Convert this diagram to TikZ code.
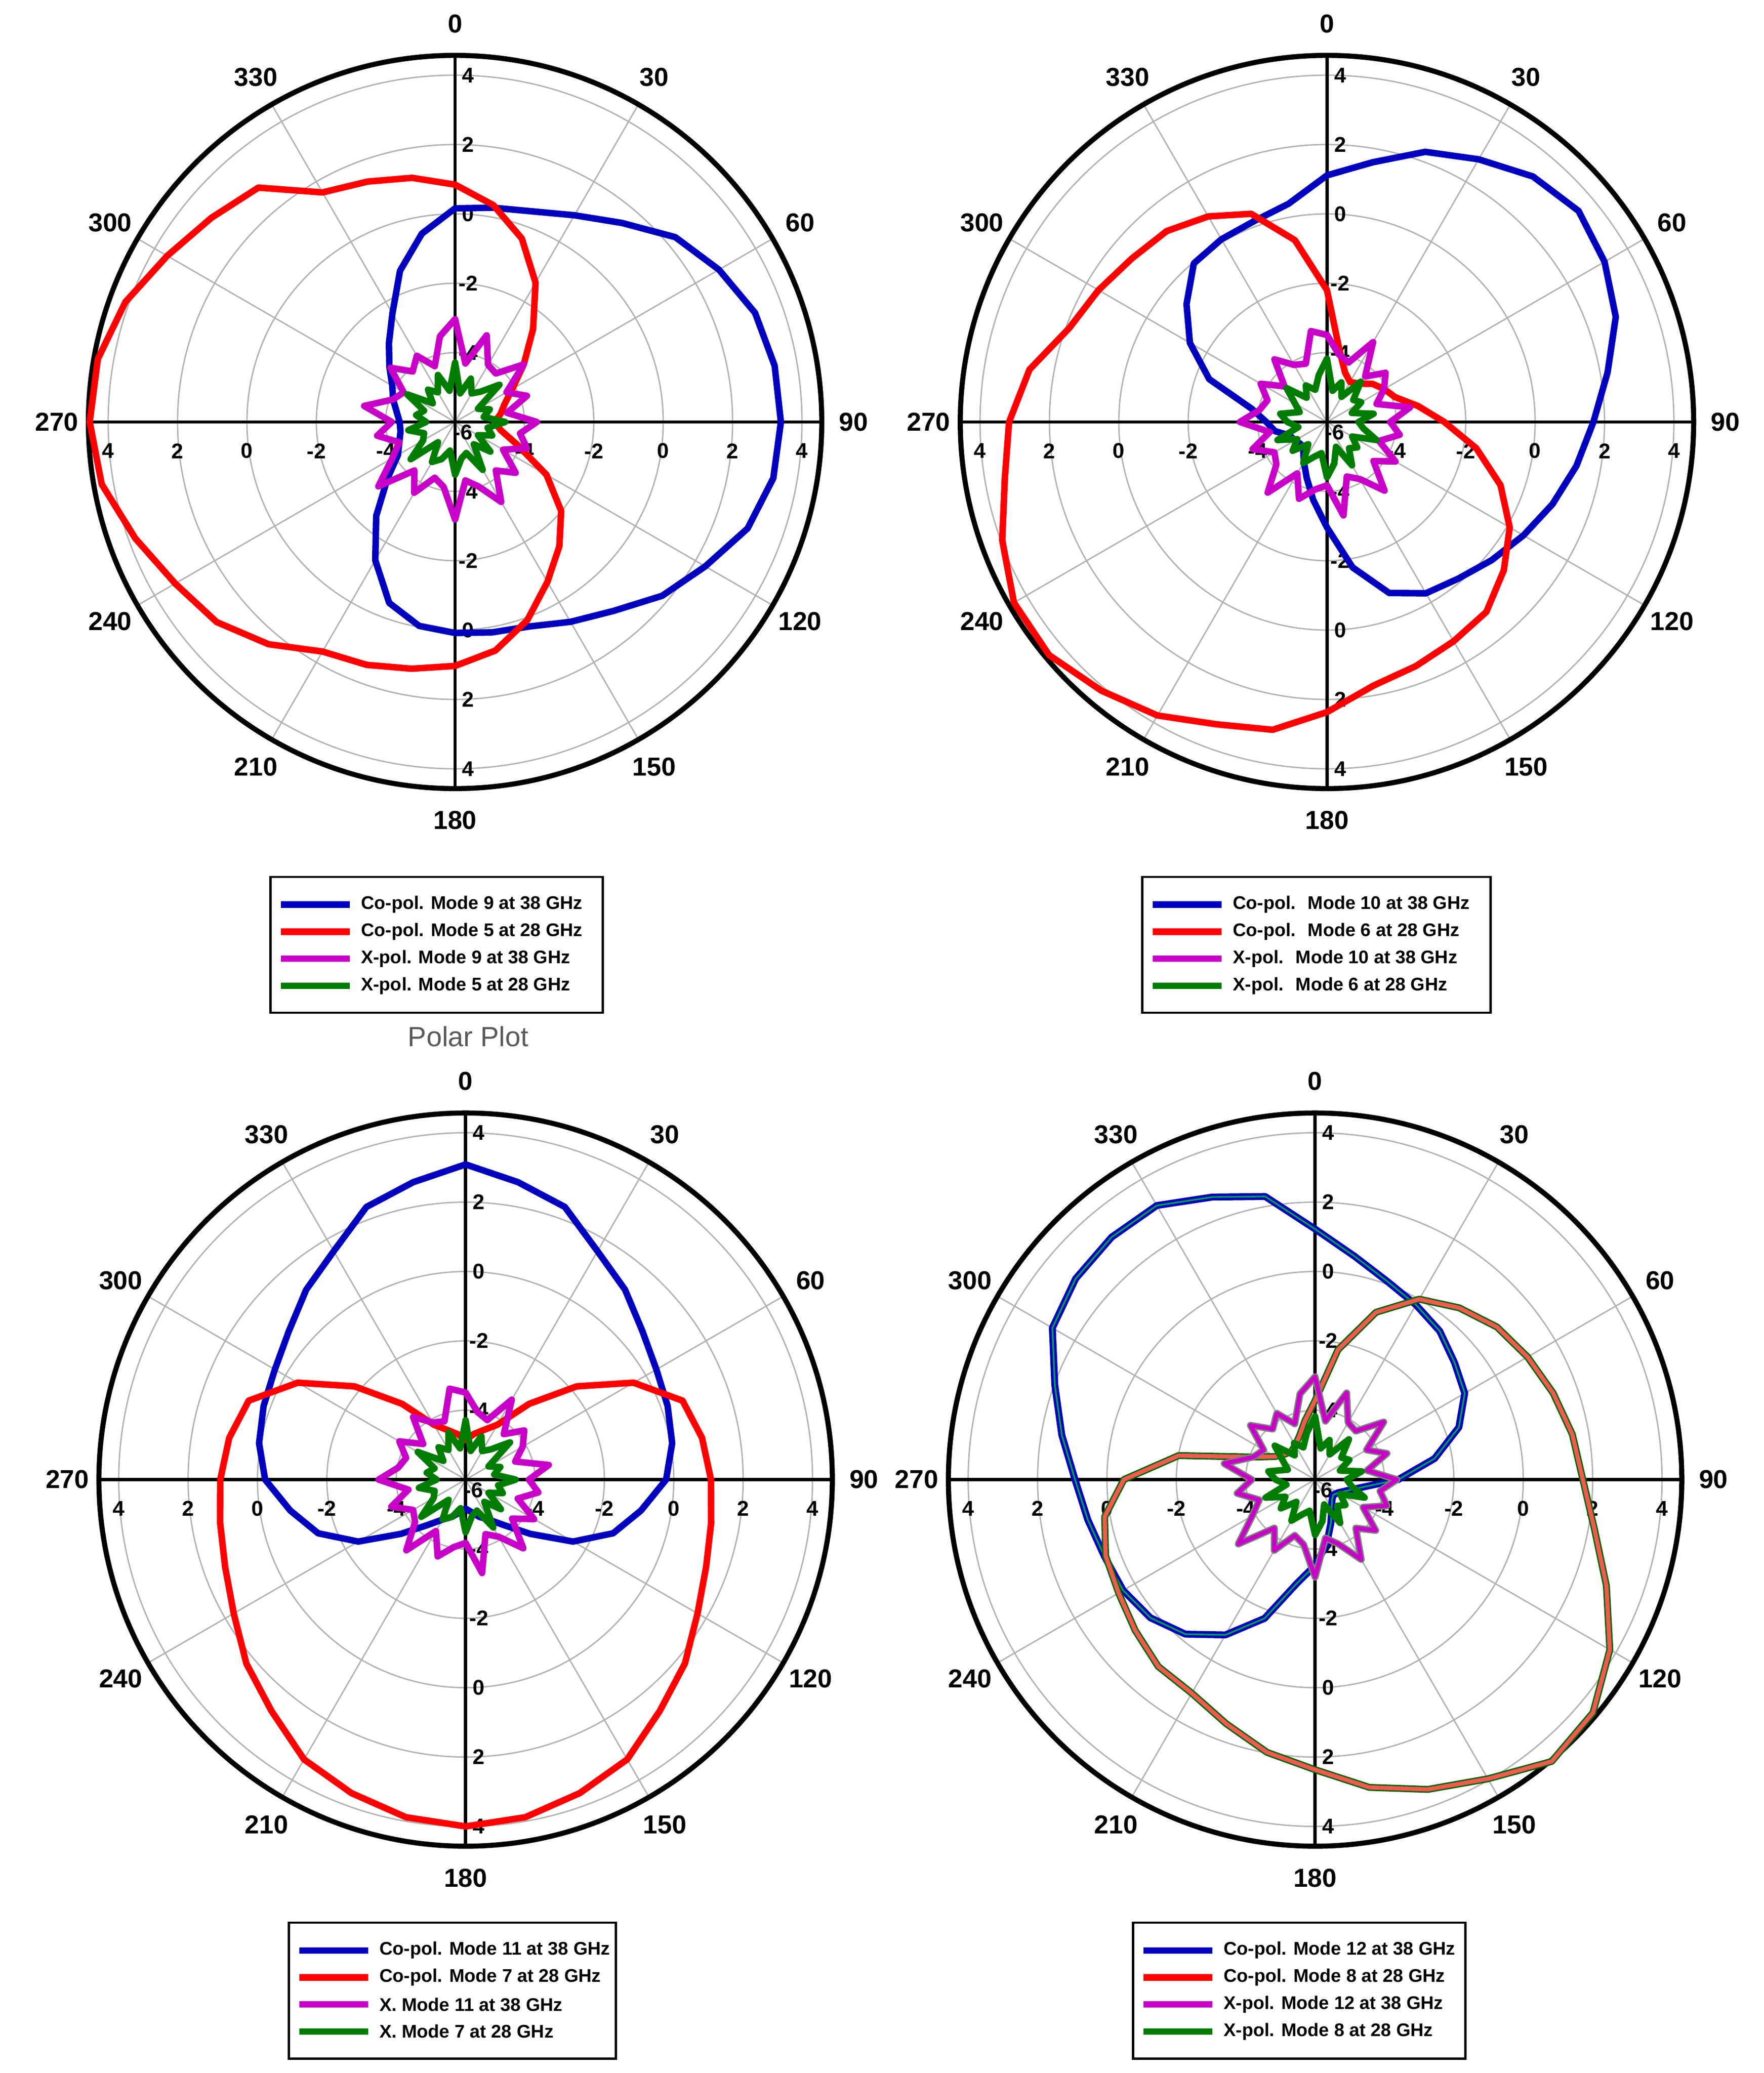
\documentclass[tikz,border=0pt]{standalone}
\usepackage{fontspec}
\setmainfont{Liberation Sans}
\definecolor{cblue}{RGB}{0,0,190}
\definecolor{cred}{RGB}{255,0,0}
\definecolor{cmag}{RGB}{200,0,200}
\definecolor{cgreen}{RGB}{0,125,0}
\definecolor{csalmon}{RGB}{240,90,80}
\tikzset{curve/.style={line width=1.4pt,line join=round},
 anglab/.style={font=\bfseries\fontsize{5.6}{6}\selectfont},
 ticklab/.style={font=\bfseries\fontsize{4.6}{5}\selectfont,inner sep=0.5pt},
 legtxt/.style={font=\bfseries\fontsize{3.95}{5}\selectfont,anchor=west,inner sep=0pt},
 legbox/.style={draw,line width=0.5pt}}
\newcommand\mypanel[1]{%
 \foreach \rr in {52.6,105.2,157.8,210.4,263} {\draw[gray!60,line width=0.3pt] (0,0) circle (\rr);}
 \foreach \a in {30,60,120,150,210,240,300,330} {\draw[gray!60,line width=0.3pt] (0,0) -- (\a:278);}
 \draw[line width=0.7pt] (0,-278) -- (0,278) (-278,0) -- (278,0);
 \draw[line width=1.1pt] (0,0) circle (278);
 \foreach \t in {0,30,...,330} {\node[anglab] (al#1\t) at ({90-\t}:302) {\t};}
 \foreach \v/\rr in {4/263,2/210.4,0/157.8,-2/105.2,-4/52.6} {
   \node[ticklab] (tu#1\v) at (10,\rr) {\v};
   \node[ticklab] (td#1\v) at (10,-\rr) {\v};
   \node[ticklab] (tl#1\v) at (-\rr,-22) {\v};
   \node[ticklab] (tr#1\v) at (\rr,-22) {\v};}
 \node[ticklab] (tc#1) at (6,-8) {-6};
}
\newcommand\mycurve[2]{%
 \edef\mytmplist{#2}%
 \foreach \r [count=\i from 0] in \mytmplist {\coordinate (q\i) at ({90-10*\i}:\r);}
 \draw[#1] (q0) \foreach \i in {1,...,35} {-- (q\i)} -- cycle;
}
\newcommand\magA{78,45,70,50,48,68,45,58,40,62,50,58,42,60,48,70,52,45,74,50,45,62,48,76,55,45,60,48,70,50,45,64,50,58,45,66}
\newcommand\grnA{45,22,35,25,30,44,20,28,22,38,25,30,20,35,22,42,25,28,40,22,30,35,20,44,28,25,36,22,30,25,42,22,32,26,38,24}
\newcommand\magB{66,52,48,70,45,58,50,40,64,48,56,42,60,46,68,50,44,72,48,52,62,45,70,50,46,60,44,66,52,48,58,42,62,50,47,70}
\newcommand\grnB{48,24,32,22,40,26,30,20,36,24,28,40,22,30,26,38,20,32,42,24,28,36,22,34,26,40,22,30,36,22,28,40,24,32,26,36}
\begin{document}
\begin{tikzpicture}[x=0.1mm,y=0.1mm]
\useasboundingbox (0,0) rectangle (1337,-1572);
% panel 1
\begin{scope}[shift={(345,-320)}]
\mypanel{a}
\mycurve{curve,cblue}{162,165,170,181,197,218,231,242,246,247,245,236,219,205,187,175,165,162,160,157,146,121,93,67,50,45,42,42,45,50,55,65,78,95,122,145}
\mycurve{curve,cred}{180,167,148,122,92,68,50,40,35,30,35,50,80,105,123,140,160,176,185,190,196,201,220,236,245,258,272,277,275,266,252,241,232,201,194,188}
\mycurve{curve,cmag}{\magA}
\mycurve{curve,cgreen}{\grnA}
\end{scope}
% panel 2
\begin{scope}[shift={(1006,-320)}]
\mypanel{b}
\mycurve{curve,cblue}{187,200,218,230,243,249,243,233,216,202,192,182,172,163,155,150,138,112,80,60,45,35,28,26,28,30,40,46,58,95,120,139,157,160,162,168}
\mycurve{curve,cred}{100,55,40,35,38,45,50,55,70,89,115,140,160,175,188,192,197,203,220,237,244,257,266,275,274,262,248,241,229,208,200,193,189,180,168,140}
\mycurve{curve,cmag}{\magB}
\mycurve{curve,cgreen}{\grnB}
\end{scope}
% panel 3
\begin{scope}[shift={(353,-1122)}]
\mypanel{c}
\mycurve{curve,cblue}{239,229,220,200,188,175,167,163,159,152,135,119,94,64,45,35,30,25,22,25,30,35,45,64,94,119,135,152,159,163,167,175,188,200,220,229}
\mycurve{curve,cred}{30,35,40,48,75,110,147,175,182,186,189,194,203,217,229,245,253,260,263,260,253,245,229,217,203,194,189,186,182,175,147,110,75,48,40,35}
\mycurve{curve,cmag}{\magB}
\mycurve{curve,cgreen}{\grnA}
\end{scope}
% panel 4
\begin{scope}[shift={(997,-1122)}]
\mypanel{d}
\mycurve{line width=1.5pt,cblue,line join=round}{190,172,160,153,147,138,131,116,92,63,35,25,20,18,20,25,35,50,65,80,112,136,153,163,168,170,175,182,195,210,230,237,240,240,228,218}
\mycurve{line width=0.35pt,cgreen!70!cyan,line join=round}{190,172,160,153,147,138,131,116,92,63,35,25,20,18,20,25,35,50,65,80,112,136,153,163,168,170,175,182,195,210,230,237,240,240,228,218}
\mycurve{line width=1.5pt,green!40!black,line join=round}{60,100,135,158,170,180,186,192,198,203,215,235,258,275,279,262,250,237,220,210,197,187,185,178,172,169,162,145,105,50,35,30,28,30,35,45}
\mycurve{line width=0.9pt,csalmon,line join=round}{60,100,135,158,170,180,186,192,198,203,215,235,258,275,279,262,250,237,220,210,197,187,185,178,172,169,162,145,105,50,35,30,28,30,35,45}
\mycurve{line width=1.5pt,gray,line join=round}{\magA}
\mycurve{line width=0.9pt,cmag,line join=round}{\magA}
\mycurve{curve,cgreen}{\grnB}
\end{scope}
% legends
\newcommand\myleg[7]{%
 \draw[legbox] (#1,#2) rectangle (#3,#2-103);
 \foreach \c/\t [count=\k from 0] in {cblue/#4,cred/#5,cmag/#6,cgreen/#7} {
   \draw[line width=1.4pt,\c] (#1+8,{#2-21-20.5*\k}) -- (#1+60,{#2-21-20.5*\k});
   \node[legtxt] at (#1+68,{#2-21-20.5*\k}) {\t};}
}
\myleg{205}{-665}{457}{Co-pol. Mode 9 at 38 GHz}{Co-pol. Mode 5 at 28 GHz}{X-pol. Mode 9 at 38 GHz}{X-pol. Mode 5 at 28 GHz}
\myleg{866}{-665}{1130}{Co-pol.~ Mode 10 at 38 GHz}{Co-pol.~ Mode 6 at 28 GHz}{X-pol.~ Mode 10 at 38 GHz}{X-pol.~ Mode 6 at 28 GHz}
\myleg{219}{-1458}{467}{Co-pol. Mode 11 at 38 GHz}{Co-pol. Mode 7 at 28 GHz}{X. Mode 11 at 38 GHz}{X. Mode 7 at 28 GHz}
\myleg{859}{-1458}{1111}{Co-pol. Mode 12 at 38 GHz}{Co-pol. Mode 8 at 28 GHz}{X-pol. Mode 12 at 38 GHz}{X-pol. Mode 8 at 28 GHz}
\node[font=\fontsize{6}{7}\selectfont,text=gray!70!black] (pp) at (355,-786) {Polar Plot};
\end{tikzpicture}
\end{document}
